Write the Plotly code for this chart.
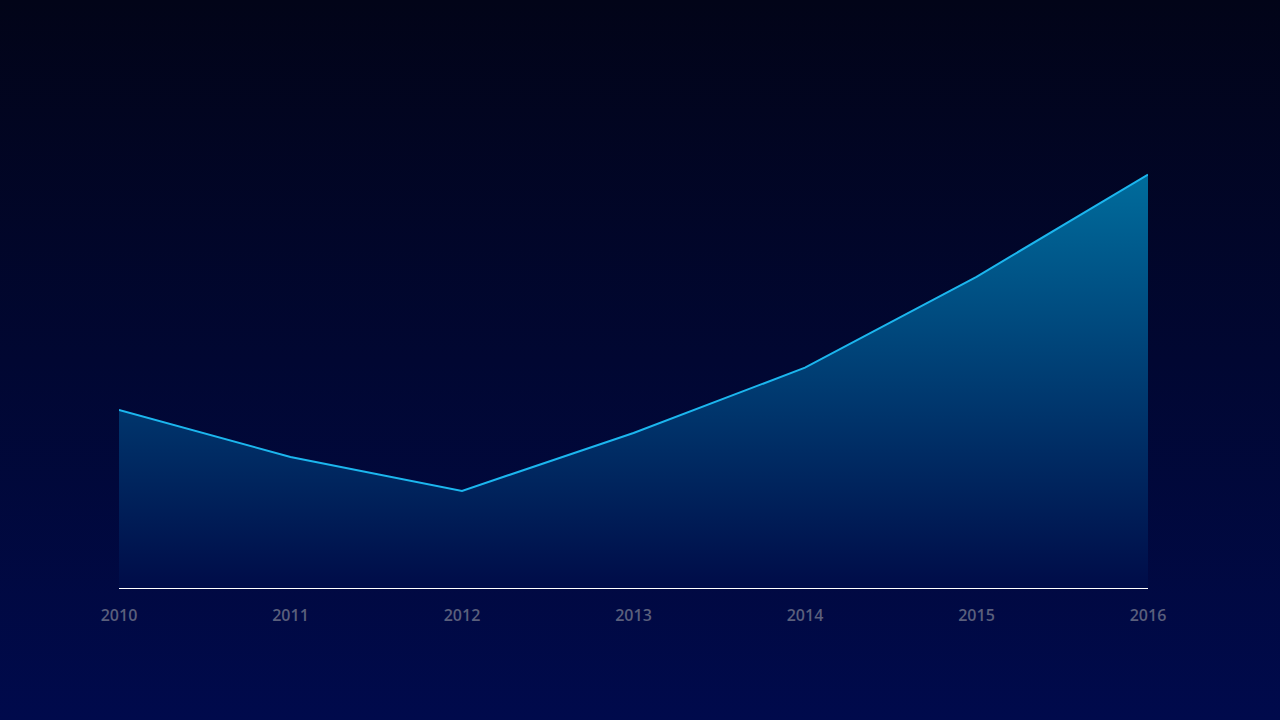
import plotly.graph_objects as go

years = [2010, 2011, 2012, 2013, 2014, 2015, 2016]
values = [43.1, 31.7, 23.5, 37.5, 53.3, 75.3, 100.0]
tick_labels = ["2010", "2011", "2012", "2013", "2014", "2015", "2016"]

W, H = 1280, 720
x_dom = [119 / W, 1148 / W]
y_dom = [(H - 588) / H, (H - 92) / H]

fig = go.Figure()

# background gradient (full page)
fig.add_trace(go.Scatter(
    x=[-0.1, 1.1, 1.1, -0.1, -0.1], y=[-0.1, -0.1, 1.1, 1.1, -0.1], mode="lines", line=dict(width=0),
    fill="toself",
    fillgradient=dict(type="vertical", start=0, stop=1,
                      colorscale=[[0, "#000a4c"], [1, "#020418"]]),
    hoverinfo="skip", showlegend=False, xaxis="x", yaxis="y",
))

# main area
fig.add_trace(go.Scatter(
    x=years, y=values, mode="lines",
    line=dict(color="#1cb6ee", width=2),
    fill="tozeroy",
    fillgradient=dict(type="vertical", start=0, stop=100,
                      colorscale=[[0, "#000c48"], [1, "#006c9c"]]),
    showlegend=False, xaxis="x2", yaxis="y2",
))

fig.update_layout(
    width=W, height=H,
    autosize=False,
    showlegend=False,
    margin=dict(l=0, r=0, t=0, b=0, pad=0, autoexpand=False),
    paper_bgcolor="#020418",
    plot_bgcolor="rgba(0,0,0,0)",
    xaxis=dict(domain=[0, 1], range=[0, 1], visible=False, fixedrange=True, automargin=False),
    yaxis=dict(domain=[0, 1], range=[0, 1], visible=False, fixedrange=True, automargin=False),
    xaxis2=dict(domain=x_dom, range=[2010, 2016], anchor="y2", automargin=False,
                tickvals=years, ticktext=tick_labels,
                showgrid=False, zeroline=False,
                showline=True, linecolor="#ffffff", linewidth=1,
                ticks="outside", ticklen=13, tickcolor="rgba(0,0,0,0)",
                tickfont=dict(family="Open Sans", size=16, color="#5a5f7c", weight=600)),
    yaxis2=dict(domain=y_dom, range=[0, 120], anchor="x2", visible=False, automargin=False,
                showgrid=False, zeroline=False),
)

fig.write_html(
    "out.html",
    config={"responsive": False, "displayModeBar": False},
    post_script="document.body.style.margin='0';document.body.style.overflow='hidden';",
)
